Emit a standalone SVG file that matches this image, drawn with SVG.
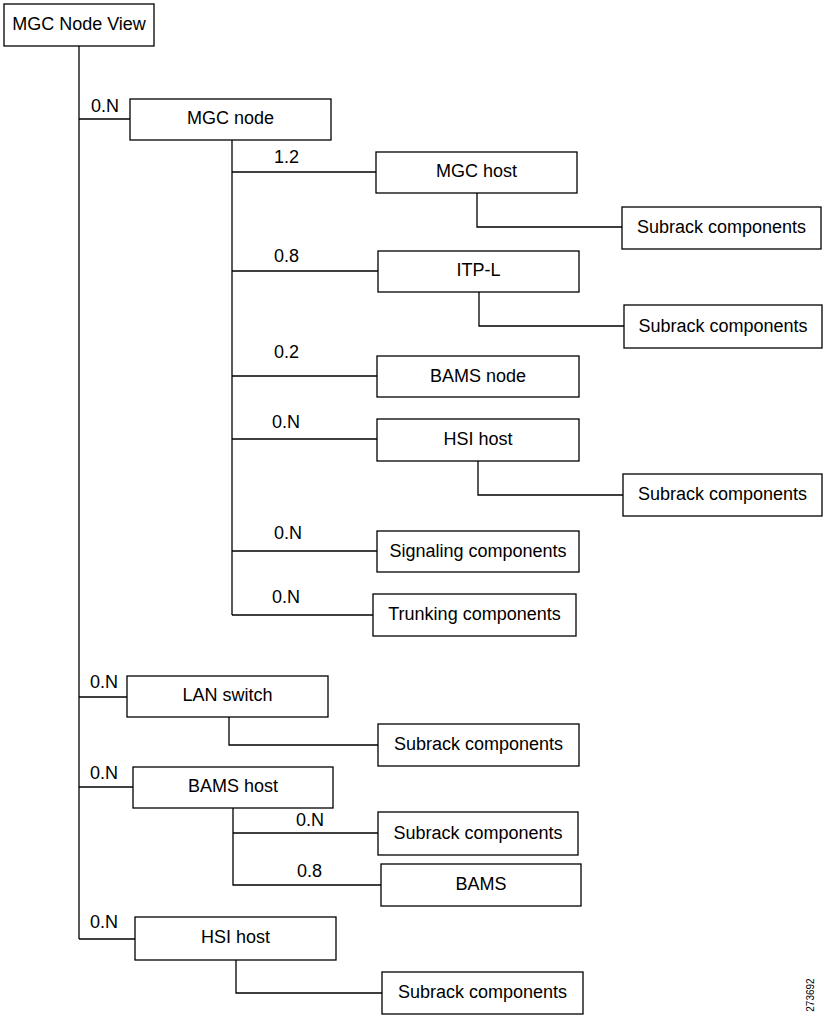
<svg xmlns="http://www.w3.org/2000/svg" width="826" height="1022" viewBox="0 0 826 1022">
<style>
  .box rect { fill: #fff; stroke: #000; stroke-width: 1.3; }
  .box text { font-family: "Liberation Sans", Arial, sans-serif; font-size: 18px; fill: #000; text-anchor: middle; }
  .lbl { font-family: "Liberation Sans", Arial, sans-serif; font-size: 18px; fill: #000; }
  #connectors path { fill: none; stroke: #000; stroke-width: 1.3; }
</style>
<rect x="0" y="0" width="826" height="1022" fill="#fff"/>
<g id="connectors">
  <path d="M79,46 V939"/>
  <path d="M79,119 H130"/>
  <path d="M79,697 H127"/>
  <path d="M79,787 H133"/>
  <path d="M79,939 H135"/>
  <path d="M232,140 V615"/>
  <path d="M232,172 H376"/>
  <path d="M232,271 H378"/>
  <path d="M232,376 H377"/>
  <path d="M232,439 H377"/>
  <path d="M232,551 H377"/>
  <path d="M232,615 H373"/>
  <path d="M477,193 V227 H622"/>
  <path d="M479,292 V326 H624"/>
  <path d="M478,461 V495 H623"/>
  <path d="M229,717 V745 H378"/>
  <path d="M233,808 V885 H381"/>
  <path d="M233,833 H378"/>
  <path d="M236,960 V993 H382"/>
</g>
<g id="labels">
  <text class="lbl" x="91" y="112">0.N</text>
  <text class="lbl" x="274" y="163">1.2</text>
  <text class="lbl" x="274" y="262">0.8</text>
  <text class="lbl" x="274" y="358">0.2</text>
  <text class="lbl" x="272" y="428">0.N</text>
  <text class="lbl" x="274" y="539">0.N</text>
  <text class="lbl" x="272" y="603">0.N</text>
  <text class="lbl" x="90" y="688">0.N</text>
  <text class="lbl" x="90" y="779">0.N</text>
  <text class="lbl" x="296" y="826">0.N</text>
  <text class="lbl" x="297" y="877">0.8</text>
  <text class="lbl" x="90" y="928">0.N</text>
</g>
<g id="n-mgc-node-view" class="box"><rect x="4" y="4" width="150" height="42"/><text x="79" y="30">MGC Node View</text></g>
<g id="n-mgc-node" class="box"><rect x="130" y="99" width="201" height="41"/><text x="230.5" y="124">MGC node</text></g>
<g id="n-mgc-host" class="box"><rect x="376" y="152" width="201" height="41"/><text x="476.5" y="177">MGC host</text></g>
<g id="n-subrack-1" class="box"><rect x="622" y="207" width="199" height="42"/><text x="721.5" y="233">Subrack components</text></g>
<g id="n-itp-l" class="box"><rect x="378" y="251" width="201" height="41"/><text x="478.5" y="276">ITP-L</text></g>
<g id="n-subrack-2" class="box"><rect x="624" y="305" width="198" height="43"/><text x="723" y="332">Subrack components</text></g>
<g id="n-bams-node" class="box"><rect x="377" y="356" width="202" height="41"/><text x="478" y="382">BAMS node</text></g>
<g id="n-hsi-host-1" class="box"><rect x="377" y="419" width="202" height="42"/><text x="478" y="445">HSI host</text></g>
<g id="n-subrack-3" class="box"><rect x="623" y="474" width="199" height="42"/><text x="722.5" y="500">Subrack components</text></g>
<g id="n-signaling" class="box"><rect x="377" y="531" width="202" height="41"/><text x="478" y="557">Signaling components</text></g>
<g id="n-trunking" class="box"><rect x="373" y="594" width="203" height="42"/><text x="474.5" y="620">Trunking components</text></g>
<g id="n-lan-switch" class="box"><rect x="127" y="676" width="201" height="41"/><text x="227.5" y="701">LAN switch</text></g>
<g id="n-subrack-4" class="box"><rect x="378" y="724" width="201" height="42"/><text x="478.5" y="750">Subrack components</text></g>
<g id="n-bams-host" class="box"><rect x="133" y="767" width="200" height="41"/><text x="233" y="792">BAMS host</text></g>
<g id="n-subrack-5" class="box"><rect x="378" y="812" width="200" height="43"/><text x="478" y="839">Subrack components</text></g>
<g id="n-bams" class="box"><rect x="381" y="864" width="200" height="42"/><text x="481" y="890">BAMS</text></g>
<g id="n-hsi-host-2" class="box"><rect x="135" y="917" width="201" height="43"/><text x="235.5" y="943">HSI host</text></g>
<g id="n-subrack-6" class="box"><rect x="382" y="972" width="201" height="42"/><text x="482.5" y="998">Subrack components</text></g>
<text x="0" y="0" transform="translate(814,995) rotate(-90)" font-family="'Liberation Sans', Arial, sans-serif" font-size="10" text-anchor="middle">273692</text>
</svg>
